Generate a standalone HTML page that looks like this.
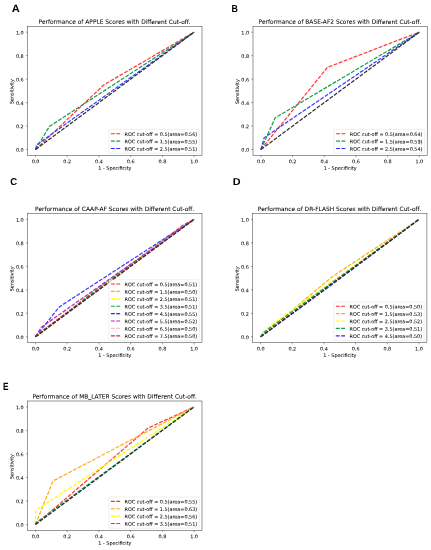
<!DOCTYPE html>
<html><head><meta charset="utf-8"><title>ROC curves</title>
<style>
html,body{margin:0;padding:0;background:#fff;}
body{width:431px;height:550px;position:relative;overflow:hidden;}
</style></head><body>
<svg width="431" height="550" viewBox="0 0 431 550" style="position:absolute;left:0;top:0;filter:blur(0.35px)">
<rect x="0" y="0" width="431" height="550" fill="#ffffff"/>
<g font-family='"DejaVu Sans", "Liberation Sans", sans-serif' font-size="4.88" fill="#000" stroke="#000" stroke-width="0.05" text-rendering="geometricPrecision">
<text transform="translate(11.66,12.20) scale(1.074,1)" font-family='"Liberation Sans", "DejaVu Sans", sans-serif' font-weight="bold" font-size="10.43" fill="#000" stroke="none" text-rendering="geometricPrecision">A</text>
<text transform="translate(114.65,23.85) rotate(0.04)" text-anchor="middle" font-size="5.9">Performance of APPLE Scores with Different Cut-off.</text>
<g style="filter:blur(0.45px)">
<polyline points="35.53,149.53 103.70,84.98 194.07,32.17" fill="none" stroke="#ff3c3c" stroke-width="1.25" stroke-dasharray="3.9 1.45" stroke-dashoffset="0"/>
<polyline points="35.53,149.53 49.32,126.53 194.07,32.17" fill="none" stroke="#12a04c" stroke-width="1.25" stroke-dasharray="3.9 1.45" stroke-dashoffset="0"/>
<polyline points="35.53,149.53 36.80,144.72 194.07,32.17" fill="none" stroke="#3c3cff" stroke-width="1.25" stroke-dasharray="3.9 1.45" stroke-dashoffset="0"/>
<line x1="35.53" y1="149.53" x2="194.07" y2="32.17" stroke="#303030" stroke-width="1.25" stroke-dasharray="3.9 1.45"/>
</g>
<rect x="27.6" y="26.3" width="174.40" height="129.10" fill="none" stroke="#333" stroke-width="0.5"/>
<line x1="35.53" y1="155.4" x2="35.53" y2="157.10" stroke="#333" stroke-width="0.45"/>
<text transform="translate(35.53,163.25) rotate(0.04)" text-anchor="middle">0.0</text>
<line x1="27.6" y1="149.53" x2="25.90" y2="149.53" stroke="#333" stroke-width="0.45"/>
<text transform="translate(23.65,151.83) rotate(0.04)" text-anchor="end">0.0</text>
<line x1="67.24" y1="155.4" x2="67.24" y2="157.10" stroke="#333" stroke-width="0.45"/>
<text transform="translate(67.24,163.25) rotate(0.04)" text-anchor="middle">0.2</text>
<line x1="27.6" y1="126.06" x2="25.90" y2="126.06" stroke="#333" stroke-width="0.45"/>
<text transform="translate(23.65,128.36) rotate(0.04)" text-anchor="end">0.2</text>
<line x1="98.95" y1="155.4" x2="98.95" y2="157.10" stroke="#333" stroke-width="0.45"/>
<text transform="translate(98.95,163.25) rotate(0.04)" text-anchor="middle">0.4</text>
<line x1="27.6" y1="102.59" x2="25.90" y2="102.59" stroke="#333" stroke-width="0.45"/>
<text transform="translate(23.65,104.89) rotate(0.04)" text-anchor="end">0.4</text>
<line x1="130.65" y1="155.4" x2="130.65" y2="157.10" stroke="#333" stroke-width="0.45"/>
<text transform="translate(130.65,163.25) rotate(0.04)" text-anchor="middle">0.6</text>
<line x1="27.6" y1="79.11" x2="25.90" y2="79.11" stroke="#333" stroke-width="0.45"/>
<text transform="translate(23.65,81.41) rotate(0.04)" text-anchor="end">0.6</text>
<line x1="162.36" y1="155.4" x2="162.36" y2="157.10" stroke="#333" stroke-width="0.45"/>
<text transform="translate(162.36,163.25) rotate(0.04)" text-anchor="middle">0.8</text>
<line x1="27.6" y1="55.64" x2="25.90" y2="55.64" stroke="#333" stroke-width="0.45"/>
<text transform="translate(23.65,57.94) rotate(0.04)" text-anchor="end">0.8</text>
<line x1="194.07" y1="155.4" x2="194.07" y2="157.10" stroke="#333" stroke-width="0.45"/>
<text transform="translate(194.07,163.25) rotate(0.04)" text-anchor="middle">1.0</text>
<line x1="27.6" y1="32.17" x2="25.90" y2="32.17" stroke="#333" stroke-width="0.45"/>
<text transform="translate(23.65,34.47) rotate(0.04)" text-anchor="end">1.0</text>
<text transform="translate(114.90,169.70) rotate(0.04)" text-anchor="middle">1 - Specificity</text>
<text transform="translate(13.60,91.65) rotate(-90.04)" text-anchor="middle" font-size="4.78">Sensitivity</text>
<rect x="108.90" y="129.40" width="90.4" height="23.80" rx="0.7" ry="0.7" fill="#ffffff" fill-opacity="0.8" stroke="#d4d4d4" stroke-width="0.35"/>
<line x1="110.90" y1="133.70" x2="120.66" y2="133.70" stroke="#ff2a2a" stroke-width="1.15" stroke-dasharray="3.9 1.45"/>
<text transform="translate(124.60,135.95) rotate(0.04)">ROC cut-off = 0.5(area=0.56)</text>
<line x1="110.90" y1="141.10" x2="120.66" y2="141.10" stroke="#12a04c" stroke-width="1.15" stroke-dasharray="3.9 1.45"/>
<text transform="translate(124.60,143.35) rotate(0.04)">ROC cut-off = 1.5(area=0.55)</text>
<line x1="110.90" y1="148.50" x2="120.66" y2="148.50" stroke="#2a2aff" stroke-width="1.15" stroke-dasharray="3.9 1.45"/>
<text transform="translate(124.60,150.75) rotate(0.04)">ROC cut-off = 2.5(area=0.51)</text>
</g>
<g font-family='"DejaVu Sans", "Liberation Sans", sans-serif' font-size="4.88" fill="#000" stroke="#000" stroke-width="0.05" text-rendering="geometricPrecision">
<text transform="translate(231.40,12.20) scale(0.860,1)" font-family='"Liberation Sans", "DejaVu Sans", sans-serif' font-weight="bold" font-size="10.29" fill="#000" stroke="none" text-rendering="geometricPrecision">B</text>
<text transform="translate(339.95,23.85) rotate(0.04)" text-anchor="middle" font-size="5.9">Performance of BASE-AF2 Scores with Different Cut-off.</text>
<g style="filter:blur(0.45px)">
<polyline points="260.92,149.53 327.43,67.38 419.28,32.17" fill="none" stroke="#ff3c3c" stroke-width="1.25" stroke-dasharray="3.9 1.45" stroke-dashoffset="0"/>
<polyline points="260.92,149.53 275.17,117.84 419.28,32.17" fill="none" stroke="#12a04c" stroke-width="1.25" stroke-dasharray="3.9 1.45" stroke-dashoffset="0"/>
<polyline points="260.92,149.53 264.09,137.80 419.28,32.17" fill="none" stroke="#3c3cff" stroke-width="1.25" stroke-dasharray="3.9 1.45" stroke-dashoffset="0"/>
<line x1="260.92" y1="149.53" x2="419.28" y2="32.17" stroke="#303030" stroke-width="1.25" stroke-dasharray="3.9 1.45"/>
</g>
<rect x="253.0" y="26.3" width="174.20" height="129.10" fill="none" stroke="#333" stroke-width="0.5"/>
<line x1="260.92" y1="155.4" x2="260.92" y2="157.10" stroke="#333" stroke-width="0.45"/>
<text transform="translate(260.92,163.25) rotate(0.04)" text-anchor="middle">0.0</text>
<line x1="253.0" y1="149.53" x2="251.30" y2="149.53" stroke="#333" stroke-width="0.45"/>
<text transform="translate(249.05,151.83) rotate(0.04)" text-anchor="end">0.0</text>
<line x1="292.59" y1="155.4" x2="292.59" y2="157.10" stroke="#333" stroke-width="0.45"/>
<text transform="translate(292.59,163.25) rotate(0.04)" text-anchor="middle">0.2</text>
<line x1="253.0" y1="126.06" x2="251.30" y2="126.06" stroke="#333" stroke-width="0.45"/>
<text transform="translate(249.05,128.36) rotate(0.04)" text-anchor="end">0.2</text>
<line x1="324.26" y1="155.4" x2="324.26" y2="157.10" stroke="#333" stroke-width="0.45"/>
<text transform="translate(324.26,163.25) rotate(0.04)" text-anchor="middle">0.4</text>
<line x1="253.0" y1="102.59" x2="251.30" y2="102.59" stroke="#333" stroke-width="0.45"/>
<text transform="translate(249.05,104.89) rotate(0.04)" text-anchor="end">0.4</text>
<line x1="355.94" y1="155.4" x2="355.94" y2="157.10" stroke="#333" stroke-width="0.45"/>
<text transform="translate(355.94,163.25) rotate(0.04)" text-anchor="middle">0.6</text>
<line x1="253.0" y1="79.11" x2="251.30" y2="79.11" stroke="#333" stroke-width="0.45"/>
<text transform="translate(249.05,81.41) rotate(0.04)" text-anchor="end">0.6</text>
<line x1="387.61" y1="155.4" x2="387.61" y2="157.10" stroke="#333" stroke-width="0.45"/>
<text transform="translate(387.61,163.25) rotate(0.04)" text-anchor="middle">0.8</text>
<line x1="253.0" y1="55.64" x2="251.30" y2="55.64" stroke="#333" stroke-width="0.45"/>
<text transform="translate(249.05,57.94) rotate(0.04)" text-anchor="end">0.8</text>
<line x1="419.28" y1="155.4" x2="419.28" y2="157.10" stroke="#333" stroke-width="0.45"/>
<text transform="translate(419.28,163.25) rotate(0.04)" text-anchor="middle">1.0</text>
<line x1="253.0" y1="32.17" x2="251.30" y2="32.17" stroke="#333" stroke-width="0.45"/>
<text transform="translate(249.05,34.47) rotate(0.04)" text-anchor="end">1.0</text>
<text transform="translate(340.20,169.70) rotate(0.04)" text-anchor="middle">1 - Specificity</text>
<text transform="translate(239.00,91.65) rotate(-90.04)" text-anchor="middle" font-size="4.78">Sensitivity</text>
<rect x="334.10" y="129.40" width="90.4" height="23.80" rx="0.7" ry="0.7" fill="#ffffff" fill-opacity="0.8" stroke="#d4d4d4" stroke-width="0.35"/>
<line x1="336.10" y1="133.70" x2="345.86" y2="133.70" stroke="#ff2a2a" stroke-width="1.15" stroke-dasharray="3.9 1.45"/>
<text transform="translate(349.80,135.95) rotate(0.04)">ROC cut-off = 0.5(area=0.64)</text>
<line x1="336.10" y1="141.10" x2="345.86" y2="141.10" stroke="#12a04c" stroke-width="1.15" stroke-dasharray="3.9 1.45"/>
<text transform="translate(349.80,143.35) rotate(0.04)">ROC cut-off = 1.5(area=0.59)</text>
<line x1="336.10" y1="148.50" x2="345.86" y2="148.50" stroke="#2a2aff" stroke-width="1.15" stroke-dasharray="3.9 1.45"/>
<text transform="translate(349.80,150.75) rotate(0.04)">ROC cut-off = 2.5(area=0.54)</text>
</g>
<g font-family='"DejaVu Sans", "Liberation Sans", sans-serif' font-size="4.88" fill="#000" stroke="#000" stroke-width="0.05" text-rendering="geometricPrecision">
<text transform="translate(10.26,185.00) scale(0.954,1)" font-family='"Liberation Sans", "DejaVu Sans", sans-serif' font-weight="bold" font-size="10.00" fill="#000" stroke="none" text-rendering="geometricPrecision">C</text>
<text transform="translate(114.65,211.05) rotate(0.04)" text-anchor="middle" font-size="5.9">Performance of CAAP-AF Scores with Different Cut-off.</text>
<g style="filter:blur(0.45px)">
<polyline points="35.53,336.83 182.97,225.25 194.07,219.37" fill="none" stroke="#ff3c3c" stroke-width="1.25" stroke-dasharray="3.9 1.45" stroke-dashoffset="0"/>
<polyline points="35.53,336.83 162.36,241.45 194.07,219.37" fill="none" stroke="#ffad1f" stroke-width="1.25" stroke-dasharray="3.9 1.45" stroke-dashoffset="0"/>
<polyline points="35.53,336.83 130.65,264.01 194.07,219.37" fill="none" stroke="#ffff00" stroke-width="1.25" stroke-dasharray="3.9 1.45" stroke-dashoffset="0"/>
<polyline points="35.53,336.83 98.95,287.50 194.07,219.37" fill="none" stroke="#12a04c" stroke-width="1.25" stroke-dasharray="3.9 1.45" stroke-dashoffset="0"/>
<polyline points="35.53,336.83 59.31,306.88 194.07,219.37" fill="none" stroke="#3c3cff" stroke-width="1.25" stroke-dasharray="3.9 1.45" stroke-dashoffset="0"/>
<polyline points="35.53,336.83 41.08,327.43 194.07,219.37" fill="none" stroke="#c828c8" stroke-width="1.25" stroke-dasharray="3.9 1.45" stroke-dashoffset="0"/>
<polyline points="35.53,336.83 35.53,336.12 194.07,219.37" fill="none" stroke="#ffc0cb" stroke-width="1.25" stroke-dasharray="3.9 1.45" stroke-dashoffset="0"/>
<polyline points="35.53,336.83 35.53,335.77 194.07,219.37" fill="none" stroke="#b5362e" stroke-width="1.25" stroke-dasharray="3.9 1.45" stroke-dashoffset="0"/>
<line x1="35.53" y1="336.83" x2="194.07" y2="219.37" stroke="#303030" stroke-width="1.25" stroke-dasharray="3.9 1.45"/>
</g>
<rect x="27.6" y="213.5" width="174.40" height="129.20" fill="none" stroke="#333" stroke-width="0.5"/>
<line x1="35.53" y1="342.7" x2="35.53" y2="344.40" stroke="#333" stroke-width="0.45"/>
<text transform="translate(35.53,350.55) rotate(0.04)" text-anchor="middle">0.0</text>
<line x1="27.6" y1="336.83" x2="25.90" y2="336.83" stroke="#333" stroke-width="0.45"/>
<text transform="translate(23.65,339.13) rotate(0.04)" text-anchor="end">0.0</text>
<line x1="67.24" y1="342.7" x2="67.24" y2="344.40" stroke="#333" stroke-width="0.45"/>
<text transform="translate(67.24,350.55) rotate(0.04)" text-anchor="middle">0.2</text>
<line x1="27.6" y1="313.34" x2="25.90" y2="313.34" stroke="#333" stroke-width="0.45"/>
<text transform="translate(23.65,315.64) rotate(0.04)" text-anchor="end">0.2</text>
<line x1="98.95" y1="342.7" x2="98.95" y2="344.40" stroke="#333" stroke-width="0.45"/>
<text transform="translate(98.95,350.55) rotate(0.04)" text-anchor="middle">0.4</text>
<line x1="27.6" y1="289.85" x2="25.90" y2="289.85" stroke="#333" stroke-width="0.45"/>
<text transform="translate(23.65,292.15) rotate(0.04)" text-anchor="end">0.4</text>
<line x1="130.65" y1="342.7" x2="130.65" y2="344.40" stroke="#333" stroke-width="0.45"/>
<text transform="translate(130.65,350.55) rotate(0.04)" text-anchor="middle">0.6</text>
<line x1="27.6" y1="266.35" x2="25.90" y2="266.35" stroke="#333" stroke-width="0.45"/>
<text transform="translate(23.65,268.65) rotate(0.04)" text-anchor="end">0.6</text>
<line x1="162.36" y1="342.7" x2="162.36" y2="344.40" stroke="#333" stroke-width="0.45"/>
<text transform="translate(162.36,350.55) rotate(0.04)" text-anchor="middle">0.8</text>
<line x1="27.6" y1="242.86" x2="25.90" y2="242.86" stroke="#333" stroke-width="0.45"/>
<text transform="translate(23.65,245.16) rotate(0.04)" text-anchor="end">0.8</text>
<line x1="194.07" y1="342.7" x2="194.07" y2="344.40" stroke="#333" stroke-width="0.45"/>
<text transform="translate(194.07,350.55) rotate(0.04)" text-anchor="middle">1.0</text>
<line x1="27.6" y1="219.37" x2="25.90" y2="219.37" stroke="#333" stroke-width="0.45"/>
<text transform="translate(23.65,221.67) rotate(0.04)" text-anchor="end">1.0</text>
<text transform="translate(114.90,357.00) rotate(0.04)" text-anchor="middle">1 - Specificity</text>
<text transform="translate(13.60,278.90) rotate(-90.04)" text-anchor="middle" font-size="4.78">Sensitivity</text>
<rect x="108.90" y="279.70" width="90.4" height="60.80" rx="0.7" ry="0.7" fill="#ffffff" fill-opacity="0.8" stroke="#d4d4d4" stroke-width="0.35"/>
<line x1="110.90" y1="284.00" x2="120.66" y2="284.00" stroke="#ff2a2a" stroke-width="1.15" stroke-dasharray="3.9 1.45"/>
<text transform="translate(124.60,286.25) rotate(0.04)">ROC cut-off = 0.5(area=0.51)</text>
<line x1="110.90" y1="291.40" x2="120.66" y2="291.40" stroke="#ffad1f" stroke-width="1.15" stroke-dasharray="3.9 1.45"/>
<text transform="translate(124.60,293.65) rotate(0.04)">ROC cut-off = 1.5(area=0.50)</text>
<line x1="110.90" y1="298.80" x2="120.66" y2="298.80" stroke="#ffff00" stroke-width="1.15" stroke-dasharray="3.9 1.45"/>
<text transform="translate(124.60,301.05) rotate(0.04)">ROC cut-off = 2.5(area=0.51)</text>
<line x1="110.90" y1="306.20" x2="120.66" y2="306.20" stroke="#12a04c" stroke-width="1.15" stroke-dasharray="3.9 1.45"/>
<text transform="translate(124.60,308.45) rotate(0.04)">ROC cut-off = 3.5(area=0.51)</text>
<line x1="110.90" y1="313.60" x2="120.66" y2="313.60" stroke="#2a2aff" stroke-width="1.15" stroke-dasharray="3.9 1.45"/>
<text transform="translate(124.60,315.85) rotate(0.04)">ROC cut-off = 4.5(area=0.55)</text>
<line x1="110.90" y1="321.00" x2="120.66" y2="321.00" stroke="#c020c0" stroke-width="1.15" stroke-dasharray="3.9 1.45"/>
<text transform="translate(124.60,323.25) rotate(0.04)">ROC cut-off = 5.5(area=0.52)</text>
<line x1="110.90" y1="328.40" x2="120.66" y2="328.40" stroke="#ffc0cb" stroke-width="1.15" stroke-dasharray="3.9 1.45"/>
<text transform="translate(124.60,330.65) rotate(0.04)">ROC cut-off = 6.5(area=0.50)</text>
<line x1="110.90" y1="335.80" x2="120.66" y2="335.80" stroke="#b5362e" stroke-width="1.15" stroke-dasharray="3.9 1.45"/>
<text transform="translate(124.60,338.05) rotate(0.04)">ROC cut-off = 7.5(area=0.50)</text>
</g>
<g font-family='"DejaVu Sans", "Liberation Sans", sans-serif' font-size="4.88" fill="#000" stroke="#000" stroke-width="0.05" text-rendering="geometricPrecision">
<text transform="translate(232.81,185.00) scale(1.081,1)" font-family='"Liberation Sans", "DejaVu Sans", sans-serif' font-weight="bold" font-size="10.00" fill="#000" stroke="none" text-rendering="geometricPrecision">D</text>
<text transform="translate(339.65,211.05) rotate(0.04)" text-anchor="middle" font-size="5.9">Performance of DR-FLASH Scores with Different Cut-off.</text>
<g style="filter:blur(0.45px)">
<polyline points="260.62,336.83 417.40,220.55 418.98,219.37" fill="none" stroke="#ff3c3c" stroke-width="1.25" stroke-dasharray="3.9 1.45" stroke-dashoffset="0"/>
<polyline points="260.62,336.83 331.88,276.93 418.98,219.37" fill="none" stroke="#ffad1f" stroke-width="1.25" stroke-dasharray="3.9 1.45" stroke-dashoffset="0"/>
<polyline points="260.62,336.83 266.95,328.37 418.98,219.37" fill="none" stroke="#ffff00" stroke-width="1.25" stroke-dasharray="3.9 1.45" stroke-dashoffset="0"/>
<polyline points="260.62,336.83 262.99,332.95 418.98,219.37" fill="none" stroke="#12a04c" stroke-width="1.25" stroke-dasharray="3.9 1.45" stroke-dashoffset="0"/>
<polyline points="260.62,336.83 339.80,278.80 418.98,219.37" fill="none" stroke="#3c3cff" stroke-width="1.25" stroke-dasharray="3.9 1.45" stroke-dashoffset="0"/>
<line x1="260.62" y1="336.83" x2="418.98" y2="219.37" stroke="#303030" stroke-width="1.25" stroke-dasharray="3.9 1.45"/>
</g>
<rect x="252.7" y="213.5" width="174.20" height="129.20" fill="none" stroke="#333" stroke-width="0.5"/>
<line x1="260.62" y1="342.7" x2="260.62" y2="344.40" stroke="#333" stroke-width="0.45"/>
<text transform="translate(260.62,350.55) rotate(0.04)" text-anchor="middle">0.0</text>
<line x1="252.7" y1="336.83" x2="251.00" y2="336.83" stroke="#333" stroke-width="0.45"/>
<text transform="translate(248.75,339.13) rotate(0.04)" text-anchor="end">0.0</text>
<line x1="292.29" y1="342.7" x2="292.29" y2="344.40" stroke="#333" stroke-width="0.45"/>
<text transform="translate(292.29,350.55) rotate(0.04)" text-anchor="middle">0.2</text>
<line x1="252.7" y1="313.34" x2="251.00" y2="313.34" stroke="#333" stroke-width="0.45"/>
<text transform="translate(248.75,315.64) rotate(0.04)" text-anchor="end">0.2</text>
<line x1="323.96" y1="342.7" x2="323.96" y2="344.40" stroke="#333" stroke-width="0.45"/>
<text transform="translate(323.96,350.55) rotate(0.04)" text-anchor="middle">0.4</text>
<line x1="252.7" y1="289.85" x2="251.00" y2="289.85" stroke="#333" stroke-width="0.45"/>
<text transform="translate(248.75,292.15) rotate(0.04)" text-anchor="end">0.4</text>
<line x1="355.64" y1="342.7" x2="355.64" y2="344.40" stroke="#333" stroke-width="0.45"/>
<text transform="translate(355.64,350.55) rotate(0.04)" text-anchor="middle">0.6</text>
<line x1="252.7" y1="266.35" x2="251.00" y2="266.35" stroke="#333" stroke-width="0.45"/>
<text transform="translate(248.75,268.65) rotate(0.04)" text-anchor="end">0.6</text>
<line x1="387.31" y1="342.7" x2="387.31" y2="344.40" stroke="#333" stroke-width="0.45"/>
<text transform="translate(387.31,350.55) rotate(0.04)" text-anchor="middle">0.8</text>
<line x1="252.7" y1="242.86" x2="251.00" y2="242.86" stroke="#333" stroke-width="0.45"/>
<text transform="translate(248.75,245.16) rotate(0.04)" text-anchor="end">0.8</text>
<line x1="418.98" y1="342.7" x2="418.98" y2="344.40" stroke="#333" stroke-width="0.45"/>
<text transform="translate(418.98,350.55) rotate(0.04)" text-anchor="middle">1.0</text>
<line x1="252.7" y1="219.37" x2="251.00" y2="219.37" stroke="#333" stroke-width="0.45"/>
<text transform="translate(248.75,221.67) rotate(0.04)" text-anchor="end">1.0</text>
<text transform="translate(339.90,357.00) rotate(0.04)" text-anchor="middle">1 - Specificity</text>
<text transform="translate(238.70,278.90) rotate(-90.04)" text-anchor="middle" font-size="4.78">Sensitivity</text>
<rect x="333.80" y="301.90" width="90.4" height="38.60" rx="0.7" ry="0.7" fill="#ffffff" fill-opacity="0.8" stroke="#d4d4d4" stroke-width="0.35"/>
<line x1="335.80" y1="306.20" x2="345.56" y2="306.20" stroke="#ff2a2a" stroke-width="1.15" stroke-dasharray="3.9 1.45"/>
<text transform="translate(349.50,308.45) rotate(0.04)">ROC cut-off = 0.5(area=0.50)</text>
<line x1="335.80" y1="313.60" x2="345.56" y2="313.60" stroke="#ffad1f" stroke-width="1.15" stroke-dasharray="3.9 1.45"/>
<text transform="translate(349.50,315.85) rotate(0.04)">ROC cut-off = 1.5(area=0.53)</text>
<line x1="335.80" y1="321.00" x2="345.56" y2="321.00" stroke="#ffff00" stroke-width="1.15" stroke-dasharray="3.9 1.45"/>
<text transform="translate(349.50,323.25) rotate(0.04)">ROC cut-off = 2.5(area=0.52)</text>
<line x1="335.80" y1="328.40" x2="345.56" y2="328.40" stroke="#12a04c" stroke-width="1.15" stroke-dasharray="3.9 1.45"/>
<text transform="translate(349.50,330.65) rotate(0.04)">ROC cut-off = 3.5(area=0.51)</text>
<line x1="335.80" y1="335.80" x2="345.56" y2="335.80" stroke="#2a2aff" stroke-width="1.15" stroke-dasharray="3.9 1.45"/>
<text transform="translate(349.50,338.05) rotate(0.04)">ROC cut-off = 4.5(area=0.50)</text>
</g>
<g font-family='"DejaVu Sans", "Liberation Sans", sans-serif' font-size="4.88" fill="#000" stroke="#000" stroke-width="0.05" text-rendering="geometricPrecision">
<text transform="translate(2.99,390.40) scale(0.779,1)" font-family='"Liberation Sans", "DejaVu Sans", sans-serif' font-weight="bold" font-size="10.58" fill="#000" stroke="none" text-rendering="geometricPrecision">E</text>
<text transform="translate(114.65,398.55) rotate(0.04)" text-anchor="middle" font-size="5.9">Performance of MB_LATER Scores with Different Cut-off.</text>
<g style="filter:blur(0.45px)">
<polyline points="35.53,524.52 148.09,428.06 194.07,406.88" fill="none" stroke="#ff3c3c" stroke-width="1.25" stroke-dasharray="3.9 1.45" stroke-dashoffset="0"/>
<polyline points="35.53,524.52 52.97,480.99 194.07,406.88" fill="none" stroke="#ffad1f" stroke-width="1.25" stroke-dasharray="3.9 1.45" stroke-dashoffset="0"/>
<polyline points="35.53,524.52 35.53,510.40 194.07,406.88" fill="none" stroke="#ffff00" stroke-width="1.25" stroke-dasharray="3.9 1.45" stroke-dashoffset="0"/>
<polyline points="35.53,524.52 35.53,523.11 194.07,406.88" fill="none" stroke="#12a04c" stroke-width="1.25" stroke-dasharray="3.9 1.45" stroke-dashoffset="0"/>
<line x1="35.53" y1="524.52" x2="194.07" y2="406.88" stroke="#303030" stroke-width="1.25" stroke-dasharray="3.9 1.45"/>
</g>
<rect x="27.6" y="401.0" width="174.40" height="129.40" fill="none" stroke="#333" stroke-width="0.5"/>
<line x1="35.53" y1="530.4" x2="35.53" y2="532.10" stroke="#333" stroke-width="0.45"/>
<text transform="translate(35.53,538.25) rotate(0.04)" text-anchor="middle">0.0</text>
<line x1="27.6" y1="524.52" x2="25.90" y2="524.52" stroke="#333" stroke-width="0.45"/>
<text transform="translate(23.65,526.82) rotate(0.04)" text-anchor="end">0.0</text>
<line x1="67.24" y1="530.4" x2="67.24" y2="532.10" stroke="#333" stroke-width="0.45"/>
<text transform="translate(67.24,538.25) rotate(0.04)" text-anchor="middle">0.2</text>
<line x1="27.6" y1="500.99" x2="25.90" y2="500.99" stroke="#333" stroke-width="0.45"/>
<text transform="translate(23.65,503.29) rotate(0.04)" text-anchor="end">0.2</text>
<line x1="98.95" y1="530.4" x2="98.95" y2="532.10" stroke="#333" stroke-width="0.45"/>
<text transform="translate(98.95,538.25) rotate(0.04)" text-anchor="middle">0.4</text>
<line x1="27.6" y1="477.46" x2="25.90" y2="477.46" stroke="#333" stroke-width="0.45"/>
<text transform="translate(23.65,479.76) rotate(0.04)" text-anchor="end">0.4</text>
<line x1="130.65" y1="530.4" x2="130.65" y2="532.10" stroke="#333" stroke-width="0.45"/>
<text transform="translate(130.65,538.25) rotate(0.04)" text-anchor="middle">0.6</text>
<line x1="27.6" y1="453.94" x2="25.90" y2="453.94" stroke="#333" stroke-width="0.45"/>
<text transform="translate(23.65,456.24) rotate(0.04)" text-anchor="end">0.6</text>
<line x1="162.36" y1="530.4" x2="162.36" y2="532.10" stroke="#333" stroke-width="0.45"/>
<text transform="translate(162.36,538.25) rotate(0.04)" text-anchor="middle">0.8</text>
<line x1="27.6" y1="430.41" x2="25.90" y2="430.41" stroke="#333" stroke-width="0.45"/>
<text transform="translate(23.65,432.71) rotate(0.04)" text-anchor="end">0.8</text>
<line x1="194.07" y1="530.4" x2="194.07" y2="532.10" stroke="#333" stroke-width="0.45"/>
<text transform="translate(194.07,538.25) rotate(0.04)" text-anchor="middle">1.0</text>
<line x1="27.6" y1="406.88" x2="25.90" y2="406.88" stroke="#333" stroke-width="0.45"/>
<text transform="translate(23.65,409.18) rotate(0.04)" text-anchor="end">1.0</text>
<text transform="translate(114.90,544.70) rotate(0.04)" text-anchor="middle">1 - Specificity</text>
<text transform="translate(13.60,466.50) rotate(-90.04)" text-anchor="middle" font-size="4.78">Sensitivity</text>
<rect x="108.90" y="497.00" width="90.4" height="31.20" rx="0.7" ry="0.7" fill="#ffffff" fill-opacity="0.8" stroke="#d4d4d4" stroke-width="0.35"/>
<line x1="110.90" y1="501.30" x2="120.66" y2="501.30" stroke="#ff2a2a" stroke-width="1.15" stroke-dasharray="3.9 1.45"/>
<text transform="translate(124.60,503.55) rotate(0.04)">ROC cut-off = 0.5(area=0.55)</text>
<line x1="110.90" y1="508.70" x2="120.66" y2="508.70" stroke="#ffad1f" stroke-width="1.15" stroke-dasharray="3.9 1.45"/>
<text transform="translate(124.60,510.95) rotate(0.04)">ROC cut-off = 1.5(area=0.63)</text>
<line x1="110.90" y1="516.10" x2="120.66" y2="516.10" stroke="#ffff00" stroke-width="1.15" stroke-dasharray="3.9 1.45"/>
<text transform="translate(124.60,518.35) rotate(0.04)">ROC cut-off = 2.5(area=0.56)</text>
<line x1="110.90" y1="523.50" x2="120.66" y2="523.50" stroke="#12a04c" stroke-width="1.15" stroke-dasharray="3.9 1.45"/>
<text transform="translate(124.60,525.75) rotate(0.04)">ROC cut-off = 3.5(area=0.51)</text>
</g>
</svg>
</body></html>
